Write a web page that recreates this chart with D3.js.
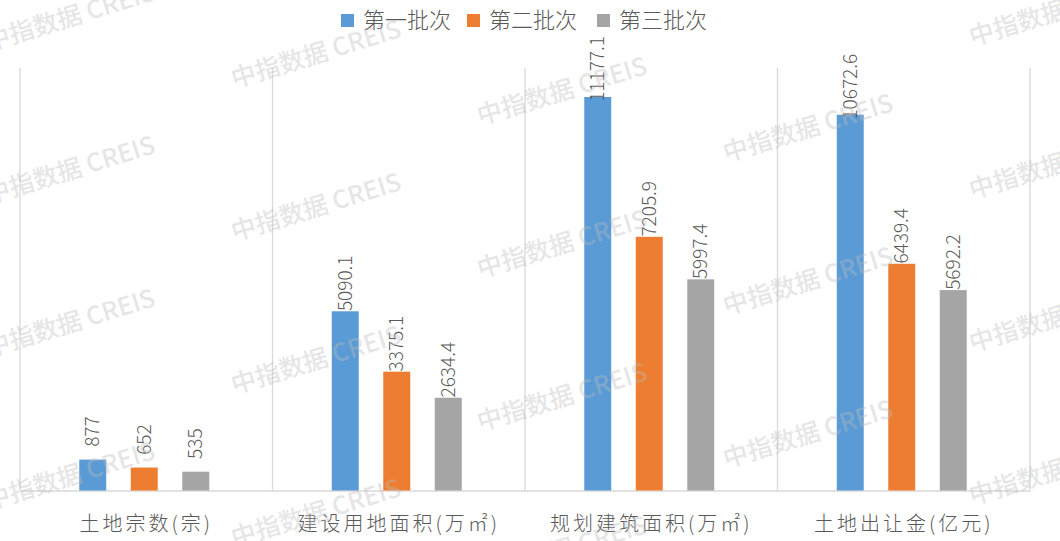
<!DOCTYPE html>
<html>
<head>
<meta charset="utf-8">
<script src="https://cdn.jsdelivr.net/npm/d3@7"></script>
<style>
  body { margin: 0; background: #fff; }
  svg { display: block; }
</style>
</head>
<body>
<div id="chart"></div>
<script>
// data
var categories = ["土地宗数(宗)", "建设用地面积(万㎡)", "规划建筑面积(万㎡)", "土地出让金(亿元)"];
var series = ["第一批次", "第二批次", "第三批次"];
var batch1 = [877, 5090.1, 11177.1, 10672.6];
var batch2 = [652, 3375.1, 7205.9, 6439.4];
var batch3 = [535, 2634.4, 5997.4, 5692.2];
var colors = ["#5B9BD5", "#ED7D31", "#A5A5A5"];

var width = 1060, height = 541;
var plot = {left: 20, right: 1030, top: 68, bottom: 490.5};
var font = "'Noto Sans CJK SC', 'Noto Sans', sans-serif";
var textColor = "#595959";

var svg = d3.select("#chart").append("svg")
            .attr("width", width)
            .attr("height", height);

// build rows for the grouped bars
var values = [batch1, batch2, batch3];
var rows = [];
categories.forEach(function(c, i) {
    series.forEach(function(s, j) {
        rows.push({cat: c, series: s, value: values[j][i]});
    });
});

var x = d3.scaleBand()
          .domain(categories)
          .range([plot.left, plot.right]);

// inner scale: step 51.5, bar 27px, groups centred in their band
var step = 51.5;
var xs = d3.scaleBand()
           .domain(series)
           .range([x.bandwidth() / 2 - 1.5 * step - 2, x.bandwidth() / 2 + 1.5 * step - 2])
           .paddingInner(0.476)
           .paddingOuter(0.238);

var y = d3.scaleLinear()
          .domain([0, 12000])
          .range([plot.bottom, plot.top]);

var color = d3.scaleOrdinal().domain(series).range(colors);

// vertical separators between the categories
var edges = categories.map(function(c) { return x(c); }).concat([plot.right]);
svg.append("g")
    .selectAll("line")
    .data(edges)
    .enter().append("line")
        .attr("x1", function(d) { return d; })
        .attr("x2", function(d) { return d; })
        .attr("y1", y(12000))
        .attr("y2", y(0))
        .attr("stroke", "#D9D9D9")
        .attr("stroke-width", 1.3);

// bottom axis with category names
var xAxis = svg.append("g")
    .attr("transform", "translate(0," + y(0) + ")")
    .call(d3.axisBottom(x).tickSize(0).tickPadding(26));
xAxis.select(".domain").attr("stroke", "#D9D9D9").attr("stroke-width", 1.3);
xAxis.selectAll("text")
    .attr("font-family", font)
    .attr("font-weight", 300)
    .attr("font-size", 20)
    .attr("letter-spacing", "3px")
    .attr("fill", textColor);

// bars
svg.append("g")
    .selectAll("rect")
    .data(rows)
    .enter().append("rect")
        .attr("x", function(d) { return x(d.cat) + xs(d.series); })
        .attr("y", function(d) { return y(d.value); })
        .attr("width", xs.bandwidth())
        .attr("height", function(d) { return y(0) - y(d.value); })
        .attr("fill", function(d) { return color(d.series); });

// vertical value labels, centred a fixed distance above the bar top
svg.append("g")
    .selectAll("text")
    .data(rows)
    .enter().append("text")
        .attr("transform", function(d) {
            var cx = x(d.cat) + xs(d.series) + xs.bandwidth() / 2;
            return "translate(" + cx + "," + (y(d.value) - 28) + ") rotate(-90)";
        })
        .attr("dy", "0.35em")
        .attr("text-anchor", "middle")
        .attr("font-family", font)
        .attr("font-weight", 300)
        .attr("font-size", 19)
        .attr("fill", textColor)
        .text(function(d) { return d.value; });

// legend on top
var legendX = [341, 467, 597];
var legend = svg.append("g")
    .selectAll("g")
    .data(series)
    .enter().append("g")
        .attr("transform", function(d, i) { return "translate(" + legendX[i] + ",14)"; });
legend.append("rect")
    .attr("width", 13)
    .attr("height", 13)
    .attr("fill", function(d) { return color(d); });
legend.append("text")
    .attr("x", 22)
    .attr("y", 14)
    .attr("font-family", font)
    .attr("font-weight", 300)
    .attr("font-size", 22)
    .attr("fill", textColor)
    .text(function(d) { return d; });

// "中指数据 CREIS" watermark lattice (only the ones that reach the page)
var marks = [];
for (var c = 0; c < 5; c++) {
    for (var r = -1; r < 5; r++) {
        var my = 17 + 37 * c + 153 * r;
        if (my > -20 && my < height + 20) marks.push({x: 70 + 246 * c, y: my});
    }
}
svg.append("g")
    .selectAll("text")
    .data(marks)
    .enter().append("text")
        .attr("transform", function(d) { return "translate(" + d.x + "," + d.y + ") rotate(-17)"; })
        .attr("text-anchor", "middle")
        .attr("dy", "0.35em")
        .attr("font-family", font)
        .attr("font-weight", 500)
        .attr("font-size", 25)
        .attr("fill", "#bdbdbd")
        .attr("fill-opacity", 0.4)
        .text("中指数据 CREIS");
</script>
</body>
</html>
